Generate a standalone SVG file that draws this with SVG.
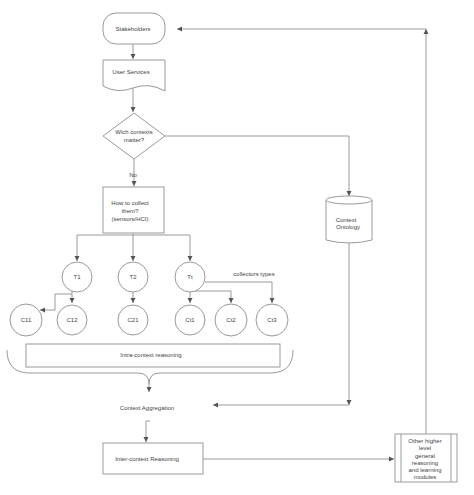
<svg xmlns="http://www.w3.org/2000/svg" width="474" height="495" viewBox="0 0 474 495">
<defs>
<style>
.s{fill:#fff;stroke:#9a9a9a;stroke-width:1}
.c{fill:none;stroke:#9a9a9a;stroke-width:1}
.t{font-family:"Liberation Sans",Arial,sans-serif;font-size:6px;fill:#444;text-anchor:middle}
</style>
<marker id="a" markerWidth="6" markerHeight="6" refX="5" refY="3" orient="auto" markerUnits="userSpaceOnUse">
<path d="M0,0.5 L5,3 L0,5.5 Z" fill="#555"/>
</marker>
</defs>
<rect width="474" height="495" fill="#fff"/>
<g id="connectors">
<path class="c" d="M133,44 V59" marker-end="url(#a)"/>
<path class="c" d="M133,88 V112" marker-end="url(#a)"/>
<path class="c" d="M134,159 V186" marker-end="url(#a)"/>
<path class="c" d="M165,136 H349 V196" marker-end="url(#a)"/>
<path class="c" d="M349,242 V405 H213" marker-end="url(#a)"/>
<path d="M346.5,400 L349,405 L351.5,400 Z" fill="#555"/>
<path class="c" d="M133,233 V235 M77,235 H190"/>
<path class="c" d="M77,235 V261" marker-end="url(#a)"/>
<path class="c" d="M133,235 V261" marker-end="url(#a)"/>
<path class="c" d="M190,235 V261" marker-end="url(#a)"/>
<path class="c" d="M72,291 V303" marker-end="url(#a)"/>
<path class="c" d="M72,294 H55 V310 H40" marker-end="url(#a)"/>
<path class="c" d="M133,292 V303" marker-end="url(#a)"/>
<path class="c" d="M190,292 V303" marker-end="url(#a)"/>
<path class="c" d="M195,291 H231 V303" marker-end="url(#a)"/>
<path class="c" d="M205,282 H272 V303" marker-end="url(#a)"/>
<path class="c" d="M7,350 Q7,373 30,373 L138,373 Q149,373 149,384 Q149,373 160,373 L270,373 Q293,373 293,350"/>
<path class="c" d="M149,384 V392" marker-end="url(#a)"/>
<path class="c" d="M150,421 H146 V442" marker-end="url(#a)"/>
<path class="c" d="M203,459 H394" marker-end="url(#a)"/>
<path class="c" d="M426,434 V29 H177" marker-end="url(#a)"/>
<path d="M423.5,34 L426,29 L428.5,34 Z" fill="#555"/>
</g>
<g id="stakeholders">
<rect class="s" x="103" y="13" width="62" height="31" rx="13"/>
<text class="t" x="133" y="31">Stakeholders</text>
</g>
<g id="user-services">
<path class="s" d="M103,60 H165 V91 Q149,82 133,88 Q117,94 103,86 Z"/>
<text class="t" x="131" y="74">User Services</text>
</g>
<g id="which-contexts">
<path class="s" d="M134,113 L165,136 L134,159 L103,136 Z"/>
<text class="t" x="134" y="134">Wich contexts</text>
<text class="t" x="134" y="142">matter?</text>
</g>
<g id="no-label">
<text class="t" x="133" y="177">No</text>
</g>
<g id="how-collect">
<rect class="s" x="103" y="187" width="61" height="46"/>
<text class="t" x="130" y="205">How to collect</text>
<text class="t" x="130" y="213">them?</text>
<text class="t" x="130" y="221">(sensors/HCI)</text>
</g>
<g id="context-ontology">
<path class="s" d="M326,200 V240 Q349,246 372,240 V200"/>
<ellipse class="s" cx="349" cy="200" rx="23" ry="4"/>
<text class="t" x="346" y="222">Context</text>
<text class="t" x="348" y="229">Ontology</text>
</g>
<g id="T1"><circle class="s" cx="77" cy="277" r="15"/><text class="t" x="77" y="279">T1</text></g>
<g id="T2"><circle class="s" cx="133" cy="277" r="15"/><text class="t" x="133" y="279">T2</text></g>
<g id="Tt"><circle class="s" cx="190" cy="277" r="15"/><text class="t" x="190" y="279">Tt</text></g>
<g id="collectors-types"><text class="t" x="254" y="276">collectors types</text></g>
<g id="C11"><circle class="s" cx="26" cy="320" r="16"/><text class="t" x="26" y="322">C11</text></g>
<g id="C12"><circle class="s" cx="72" cy="320" r="15"/><text class="t" x="72" y="322">C12</text></g>
<g id="C21"><circle class="s" cx="133" cy="320" r="15"/><text class="t" x="133" y="322">C21</text></g>
<g id="Ct1"><circle class="s" cx="190" cy="320" r="15"/><text class="t" x="190" y="322">Ct1</text></g>
<g id="Ct2"><circle class="s" cx="231" cy="320" r="16"/><text class="t" x="231" y="322">Ct2</text></g>
<g id="Ct3"><circle class="s" cx="272" cy="320" r="16"/><text class="t" x="272" y="322">Ct3</text></g>
<g id="intra-context">
<rect class="s" x="26" y="344" width="254" height="23"/>
<text class="t" x="151" y="357">Intra-context reasoning</text>
</g>
<g id="context-aggregation">
<text class="t" x="147" y="410">Context Aggregation</text>
</g>
<g id="inter-context">
<rect class="s" x="103" y="443" width="100" height="31"/>
<text class="t" x="147" y="461">Inter-context Reasoning</text>
</g>
<g id="other-modules">
<rect class="s" x="395" y="434" width="62" height="48"/>
<path class="c" d="M401,434 V482 M451,434 V482"/>
<text class="t" x="425" y="443">Other higher</text>
<text class="t" x="425" y="450">level</text>
<text class="t" x="425" y="458">general</text>
<text class="t" x="425" y="465">reasoning</text>
<text class="t" x="425" y="472">and learning</text>
<text class="t" x="425" y="479">modules</text>
</g>
</svg>
